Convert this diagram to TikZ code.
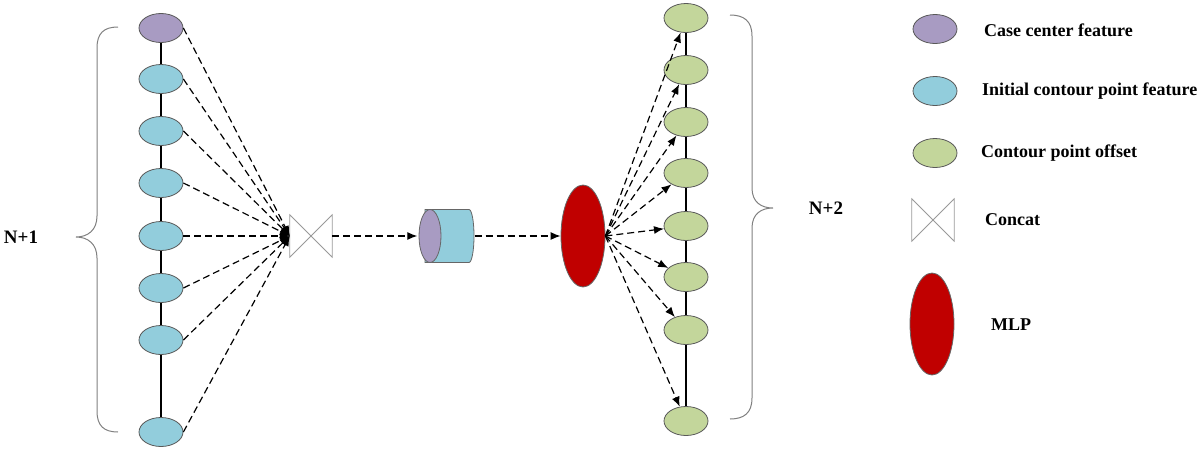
\documentclass[tikz,border=0pt]{standalone}
\usepackage{fontspec}
\setmainfont{Liberation Serif}
\usetikzlibrary{arrows.meta, shapes.geometric}

\definecolor{purpleF}{RGB}{168,155,194}
\definecolor{cyanF}{RGB}{146,205,220}
\definecolor{greenF}{RGB}{195,214,155}
\definecolor{mlpRed}{RGB}{192,0,0}

\tikzset{
  feat/.style={ellipse, draw=black!65, line width=0.8pt, minimum width=44pt, minimum height=29pt, inner sep=0pt},
  flow/.style={dash pattern=on 7pt off 4pt, line width=1.2pt, -{Latex[length=10pt,width=8pt]}},
  link/.style={line width=1.2pt},
  brace/.style={draw=black!50, line width=1pt},
  lbl/.style={font=\bfseries\fontsize{18}{20}\selectfont, anchor=west, inner sep=0pt},
  bowtie/.style={minimum width=42pt, minimum height=42pt, inner sep=0pt},
}

\begin{document}
\begin{tikzpicture}[x=1pt, y=-1pt]
\useasboundingbox (0,0) rectangle (1200,450);

% Input column
\node[feat, fill=purpleF] (c0) at (161,28) {};
\foreach \i/\y in {1/79, 2/131, 3/183, 4/236, 5/288, 6/340, 7/432}
  \node[feat, fill=cyanF] (c\i) at (161,\y) {};
\foreach \i [count=\j] in {0,...,6}
  \draw[link] (c\i) -- (c\j);

% Concat
\node[bowtie] (cat) at (311,236) {};
\draw[black!40, line width=0.8pt] (cat.north west) -- (cat.south east) -- (cat.north east) -- (cat.south west) -- cycle;
\foreach \i in {0,...,7}
  \draw[flow] (c\i.east) -- (cat.west);

% Fused feature (cylinder)
\node[minimum width=57pt, minimum height=53pt, inner sep=0pt] (cyl) at (446,236) {};
\draw[fill=cyanF, draw=black!60, line width=0.8pt] (425,209.5) -- (469,209.5) arc (-90:90:5 and 26.5) -- (425,262.5) -- cycle;
\draw[fill=purpleF, draw=black!60, line width=0.8pt] (430,236) ellipse (11 and 26.5);
\draw[flow] (cat.east) -- (cyl.west);

% MLP
\node[ellipse, fill=mlpRed, draw=black!60, line width=0.8pt, minimum width=44pt, minimum height=102pt, inner sep=0pt] (mlp) at (583,236) {};
\draw[flow] (cyl.east) -- (mlp.west);

% Output column
\foreach \i/\y in {0/18, 1/70, 2/122, 3/173, 4/226, 5/277, 6/330, 7/421}
  \node[feat, fill=greenF] (o\i) at (686,\y) {};
\foreach \i [count=\j] in {0,...,6}
  \draw[link] (o\i) -- (o\j);
\foreach \i in {0,...,7}
  \draw[flow] (mlp.east) -- (o\i);

% Braces
\draw[brace] (118,27) .. controls (104,27) and (97,33) .. (97,48) -- (97,216)
  .. controls (97,230) and (88,237) .. (76,237) .. controls (88,237) and (97,244) .. (97,258)
  -- (97,411) .. controls (97,426) and (104,432) .. (118,432);
\draw[brace] (730,15) .. controls (744,15) and (752,21) .. (752,36) -- (752,188)
  .. controls (752,202) and (761,208) .. (773,208) .. controls (761,208) and (752,214) .. (752,228)
  -- (752,398) .. controls (752,413) and (744,419) .. (730,419);
\node[font=\bfseries\fontsize{19}{21}\selectfont] (n1) at (21,237) {N+1};
\node[font=\bfseries\fontsize{19}{21}\selectfont] (n2) at (826,208) {N+2};

% Legend
\node[feat, fill=purpleF] (k0) at (935,29) {};
\node[feat, fill=cyanF] (k1) at (935,91) {};
\node[feat, fill=greenF] (k2) at (935,153) {};
\node[bowtie] (k3) at (933,220) {};
\draw[black!40, line width=0.8pt] (k3.north west) -- (k3.south east) -- (k3.north east) -- (k3.south west) -- cycle;
\node[ellipse, fill=mlpRed, draw=black!60, line width=0.8pt, minimum width=44pt, minimum height=102pt, inner sep=0pt] (k4) at (932,324) {};
\node[lbl] (t0) at (984,30) {Case center feature};
\node[lbl] (t1) at (982,91) {Initial contour point feature};
\node[lbl] (t2) at (981,153) {Contour point offset};
\node[lbl] (t3) at (985,220) {Concat};
\node[lbl] (t4) at (991,325) {MLP};

\end{tikzpicture}
\end{document}
